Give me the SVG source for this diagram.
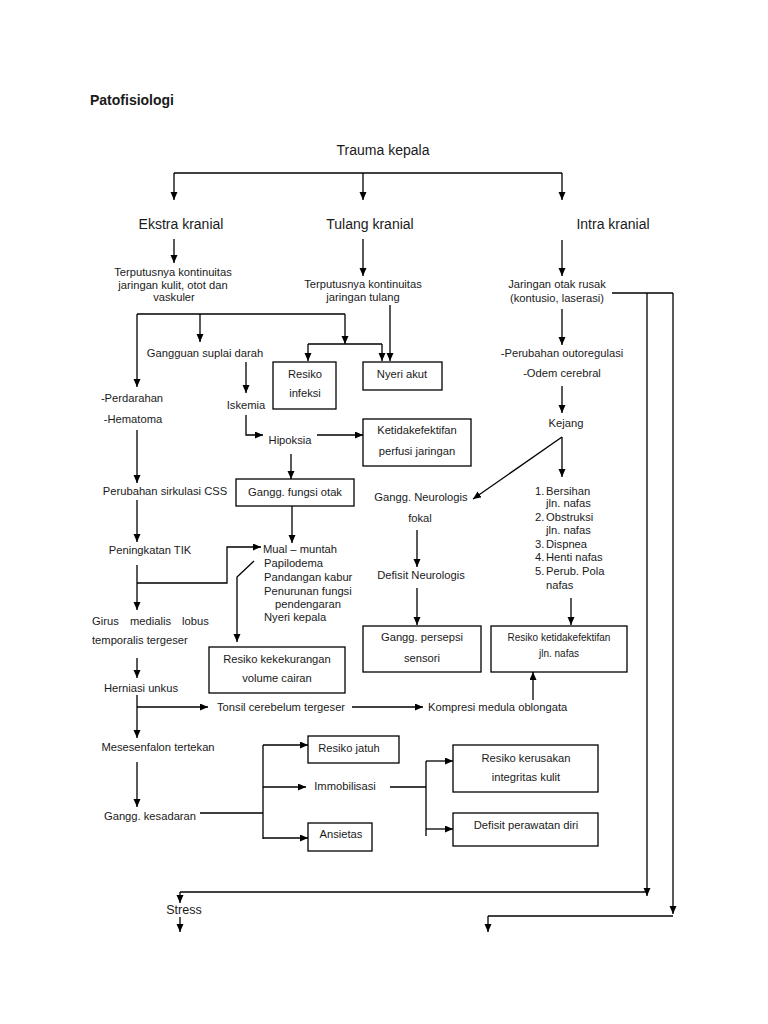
<svg xmlns="http://www.w3.org/2000/svg" width="768" height="1024" viewBox="0 0 768 1024">
<defs>
<marker id="ah" markerUnits="userSpaceOnUse" markerWidth="9" markerHeight="8" refX="8" refY="3.5" orient="auto"><path d="M0,0 L8,3.5 L0,7 z" fill="#000"/></marker>
<style>
text{font-family:"Liberation Sans",Arial,sans-serif;fill:#1a1a1a;font-size:11.2px}
.c{text-anchor:middle}
.big{font-size:14px}
.sm{font-size:10px}
.box rect{fill:#fff;stroke:#000;stroke-width:1.3}
#connectors path,#connectors line{fill:none;stroke:#000;stroke-width:1.3}
.a{marker-end:url(#ah)}
</style>
</defs>
<rect width="768" height="1024" fill="#fff"/>
<text x="90" y="105" style="font-weight:bold;font-size:14px">Patofisiologi</text>

<g id="connectors">
<path d="M174,173 H562"/>
<path class="a" d="M174,173 V200"/>
<path class="a" d="M363,173 V200"/>
<path class="a" d="M562,173 V200"/>
<path class="a" d="M174,239 V263"/>
<path class="a" d="M363,239 V276"/>
<path class="a" d="M562,240 V276"/>
<path d="M137,314 H345"/>
<path class="a" d="M137,314 V387"/>
<path class="a" d="M200,314 V342"/>
<path class="a" d="M345,314 V344"/>
<path d="M308,344 H382"/>
<path class="a" d="M308,344 V361"/>
<path class="a" d="M382,344 V361"/>
<path class="a" d="M390,305 V361"/>
<path class="a" d="M246,362 V393"/>
<path class="a" d="M246,415 V435 H263"/>
<path class="a" d="M317,435 H363"/>
<path class="a" d="M291,454 V479"/>
<path class="a" d="M292,506 V543"/>
<path class="a" d="M137,430 V483"/>
<path class="a" d="M137,500 V542"/>
<path class="a" d="M137,565 V610"/>
<path class="a" d="M137,583 H227 V547 H261"/>
<path class="a" d="M254,561 L237,577 V642"/>
<path class="a" d="M137,658 V678"/>
<path class="a" d="M137,695 V738"/>
<path class="a" d="M137,707 H208"/>
<path class="a" d="M352,707 H423"/>
<path class="a" d="M533,700 V672"/>
<path class="a" d="M137,762 V807"/>
<path d="M200,813 H263 M263,745 V839"/>
<path class="a" d="M263,745 H308"/>
<path class="a" d="M263,787 H306"/>
<path class="a" d="M263,838 H308"/>
<path d="M390,787 H426 M426,761 V836"/>
<path class="a" d="M426,761 H453"/>
<path class="a" d="M426,829 H453"/>
<path d="M612,293 H673"/>
<path class="a" d="M647,293 V896"/>
<path class="a" d="M673,293 V914"/>
<path d="M647,892 H180"/>
<path class="a" d="M180,892 V903"/>
<path class="a" d="M180,917 V932"/>
<path d="M673,916 H488"/>
<path class="a" d="M488,916 V932"/>
<path class="a" d="M562,309 V345"/>
<path class="a" d="M562,386 V413"/>
<path class="a" d="M562,437 L473,499"/>
<path class="a" d="M562,437 V477"/>
<path class="a" d="M417,530 V567"/>
<path class="a" d="M417,588 V625"/>
<path class="a" d="M571,598 V625"/>
</g>

<g id="trauma"><text class="c big" x="383" y="155">Trauma kepala</text></g>
<g id="ekstra"><text class="c big" x="181" y="229">Ekstra kranial</text></g>
<g id="tulang"><text class="c big" x="370" y="229">Tulang kranial</text></g>
<g id="intra"><text class="c big" x="613" y="229">Intra kranial</text></g>

<g id="terputus-kulit"><text class="c" x="173" y="276">Terputusnya kontinuitas</text><text class="c" x="173" y="289">jaringan kulit, otot dan</text><text class="c" x="174" y="301">vaskuler</text></g>
<g id="terputus-tulang"><text class="c" x="363" y="288">Terputusnya kontinuitas</text><text class="c" x="363" y="301">jaringan tulang</text></g>
<g id="jaringan-otak"><text class="c" x="557" y="288">Jaringan otak rusak</text><text class="c" x="557" y="302">(kontusio, laserasi)</text></g>

<g id="gangguan-suplai"><text class="c" x="205" y="357">Gangguan suplai darah</text></g>
<g id="resiko-infeksi" class="box"><rect x="273" y="362" width="63" height="47"/><text class="c" x="305" y="378">Resiko</text><text class="c" x="305" y="397">infeksi</text></g>
<g id="nyeri-akut" class="box"><rect x="363" y="362" width="79" height="28"/><text class="c" x="402" y="378">Nyeri akut</text></g>
<g id="perdarahan"><text class="c" x="132" y="402">-Perdarahan</text><text class="c" x="133" y="423">-Hematoma</text></g>
<g id="iskemia"><text class="c" x="246" y="409">Iskemia</text></g>
<g id="hipoksia"><text class="c" x="290" y="444">Hipoksia</text></g>
<g id="perfusi" class="box"><rect x="363" y="419" width="108" height="47"/><text class="c" x="417" y="434">Ketidakefektifan</text><text class="c" x="417" y="455">perfusi jaringan</text></g>
<g id="fungsi-otak" class="box"><rect x="236" y="479" width="118" height="27"/><text class="c" x="295" y="496">Gangg. fungsi otak</text></g>
<g id="sirkulasi"><text class="c" x="165" y="495">Perubahan sirkulasi CSS</text></g>
<g id="tik"><text class="c" x="150" y="554">Peningkatan TIK</text></g>
<g id="gejala"><text x="263" y="553">Mual – muntah</text><text x="264" y="567">Papilodema</text><text x="264" y="581">Pandangan kabur</text><text x="264" y="595">Penurunan fungsi</text><text x="275" y="608">pendengaran</text><text x="264" y="621">Nyeri kepala</text></g>
<g id="girus"><text x="92" y="625">Girus</text><text x="130" y="625">medialis</text><text x="182" y="625">lobus</text><text x="92" y="644">temporalis tergeser</text></g>
<g id="cairan" class="box"><rect x="209" y="647" width="136" height="46"/><text class="c" x="277" y="663">Resiko kekekurangan</text><text class="c" x="277" y="682">volume cairan</text></g>
<g id="herniasi"><text class="c" x="141" y="692">Herniasi unkus</text></g>
<g id="tonsil"><text x="217" y="711">Tonsil cerebelum tergeser</text></g>
<g id="kompresi"><text x="428" y="711">Kompresi medula oblongata</text></g>
<g id="mesesenfalon"><text class="c" x="158" y="751">Mesesenfalon tertekan</text></g>
<g id="kesadaran"><text class="c" x="150" y="820">Gangg. kesadaran</text></g>
<g id="jatuh" class="box"><rect x="308" y="736" width="91" height="27"/><text class="c" x="349" y="752">Resiko jatuh</text></g>
<g id="immobilisasi"><text class="c" x="345" y="790">Immobilisasi</text></g>
<g id="ansietas" class="box"><rect x="308" y="823" width="64" height="28"/><text class="c" x="341" y="838">Ansietas</text></g>
<g id="kulit" class="box"><rect x="453" y="745" width="145" height="47"/><text class="c" x="526" y="762">Resiko kerusakan</text><text class="c" x="526" y="781">integritas kulit</text></g>
<g id="perawatan" class="box"><rect x="453" y="813" width="145" height="33"/><text class="c" x="526" y="829">Defisit perawatan diri</text></g>

<g id="outoregulasi"><text class="c" x="562" y="357">-Perubahan outoregulasi</text><text class="c" x="562" y="377">-Odem cerebral</text></g>
<g id="kejang"><text class="c" x="566" y="427">Kejang</text></g>
<g id="neuro-fokal"><text class="c" x="421" y="501">Gangg. Neurologis</text><text class="c" x="420" y="522">fokal</text></g>
<g id="defisit-neuro"><text class="c" x="421" y="579">Defisit Neurologis</text></g>
<g id="persepsi" class="box"><rect x="363" y="626" width="118" height="46"/><text class="c" x="422" y="641">Gangg. persepsi</text><text class="c" x="422" y="662">sensori</text></g>
<g id="nafas-list"><text x="535" y="495">1.</text><text x="546" y="495">Bersihan</text><text x="546" y="507">jln. nafas</text><text x="535" y="521">2.</text><text x="546" y="521">Obstruksi</text><text x="546" y="534">jln. nafas</text><text x="535" y="548">3.</text><text x="546" y="548">Dispnea</text><text x="535" y="561">4.</text><text x="546" y="561">Henti nafas</text><text x="535" y="575">5.</text><text x="546" y="575">Perub. Pola</text><text x="546" y="589">nafas</text></g>
<g id="jln-nafas" class="box"><rect x="491" y="626" width="136" height="46"/><text class="c sm" x="559" y="641">Resiko ketidakefektifan</text><text class="c sm" x="559" y="657">jln. nafas</text></g>
<g id="stress"><text class="c" x="184" y="914" style="font-size:12.5px">Stress</text></g>
</svg>
